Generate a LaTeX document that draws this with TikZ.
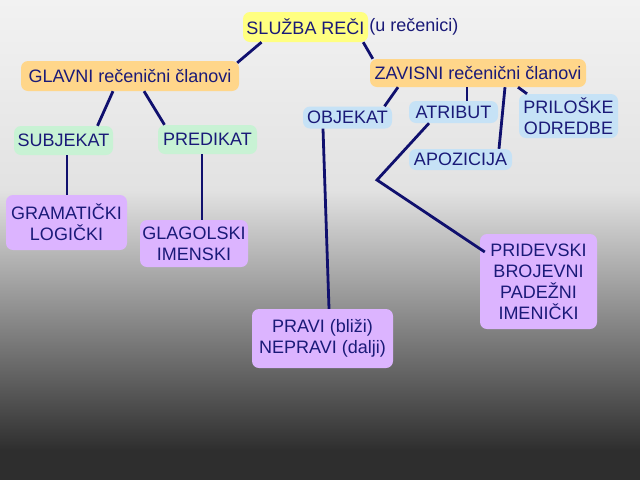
\documentclass[tikz,border=0pt]{standalone}
\usepackage{fontspec}
\setmainfont{Liberation Sans}
\usetikzlibrary{positioning}
\definecolor{bgtop}{RGB}{242,242,242}
\definecolor{bgmid}{RGB}{226,226,226}
\definecolor{bgbot}{RGB}{46,46,46}
\definecolor{tekst}{RGB}{26,26,120}
\definecolor{crta}{RGB}{16,16,110}
\definecolor{zuta}{RGB}{255,255,128}
\definecolor{narandz}{RGB}{255,214,138}
\definecolor{zelena}{RGB}{200,242,212}
\definecolor{plava}{RGB}{198,226,246}
\definecolor{ljubic}{RGB}{220,180,255}
\begin{document}
\begin{tikzpicture}[x=1pt,y=-1pt,
    kutija/.style={rounded corners=7pt, inner sep=1pt, align=center, text=tekst,
      font=\fontsize{18}{21}\selectfont},
    veza/.style={draw=crta, line width=2.8pt}]
  \useasboundingbox (0,0) rectangle (640,480);
  % Background gradient
  \shade[top color=bgtop, bottom color=bgmid] (0,0) rectangle (640,191);
  \shade[top color=bgmid, bottom color=bgbot] (0,190) rectangle (640,451);
  \fill[bgbot] (0,450) rectangle (640,480);
  %--- Top level ---
  \node[kutija, fill=zuta, minimum width=125pt, minimum height=30pt] (sluzba) at (305.5,27) {SLUŽBA REČI};
  \node[right=0pt of sluzba, inner sep=1pt, text=tekst, font=\fontsize{18}{21}\selectfont] (urec) {(u rečenici)};
  \node[kutija, fill=narandz, minimum width=218pt, minimum height=30pt] (glavni) at (130,76) {GLAVNI rečenični članovi};
  \node[kutija, fill=narandz, minimum width=216pt, minimum height=28pt] (zavisni) at (478,73) {ZAVISNI rečenični članovi};
  %--- Main parts ---
  \node[kutija, fill=zelena, minimum width=99pt, minimum height=29pt] (subjekat) at (63.5,140.5) {SUBJEKAT};
  \node[kutija, fill=zelena, minimum width=99pt, minimum height=29pt] (predikat) at (207.5,139.5) {PREDIKAT};
  \node[kutija, fill=ljubic, minimum width=121pt, minimum height=55pt] (gramaticki) at (66.5,222.5) {GRAMATIČKI\\LOGIČKI};
  \node[kutija, fill=ljubic, minimum width=108pt, minimum height=47pt] (glagolski) at (194,243.5) {GLAGOLSKI\\IMENSKI};
  %--- Dependent parts ---
  \node[kutija, fill=plava, minimum width=89pt, minimum height=22pt] (objekat) at (347.5,117.5) {OBJEKAT};
  \node[kutija, fill=plava, minimum width=89pt, minimum height=22pt] (atribut) at (453.5,112) {ATRIBUT};
  \node[kutija, fill=plava, minimum width=103pt, minimum height=21pt] (apozicija) at (460.5,159.5) {APOZICIJA};
  \node[kutija, fill=plava, minimum width=99pt, minimum height=44pt] (priloske) at (568.5,116) {PRILOŠKE\\ODREDBE};
  \node[kutija, fill=ljubic, minimum width=141pt, minimum height=59pt] (pravi) at (322.5,338.5) {PRAVI (bliži)\\NEPRAVI (dalji)};
  \node[kutija, fill=ljubic, minimum width=117pt, minimum height=95pt] (pridevski) at (538.5,281.5) {PRIDEVSKI\\BROJEVNI\\PADEŽNI\\IMENIČKI};
  \coordinate (lakat) at (377,180);
  %--- Connectors ---
  \draw[veza] ([xshift=-44pt]sluzba.south) -- ([xshift=-2pt,yshift=-2pt]glavni.north east);
  \draw[veza] ([xshift=-5pt]sluzba.south east) -- ([xshift=3pt]zavisni.north west);
  \foreach \a/\da/\b/\db in {glavni/-17/subjekat/34, glavni/14/predikat/-43,
      subjekat/3.5/gramaticki/0.5, predikat/-5.5/glagolski/8,
      zavisni/-80/objekat/37, zavisni/-11/atribut/13.5,
      zavisni/27/apozicija/38.5, zavisni/40/priloske/-41.5,
      objekat/-24.5/pravi/6.5}{
    \draw[veza] ([xshift=\da pt]\a.south) -- ([xshift=\db pt]\b.north);
  }
  \draw[veza] ([xshift=-24.5pt]atribut.south) -- (lakat) -- ([xshift=5pt,yshift=29.5pt]pridevski.west);
\end{tikzpicture}
\end{document}
